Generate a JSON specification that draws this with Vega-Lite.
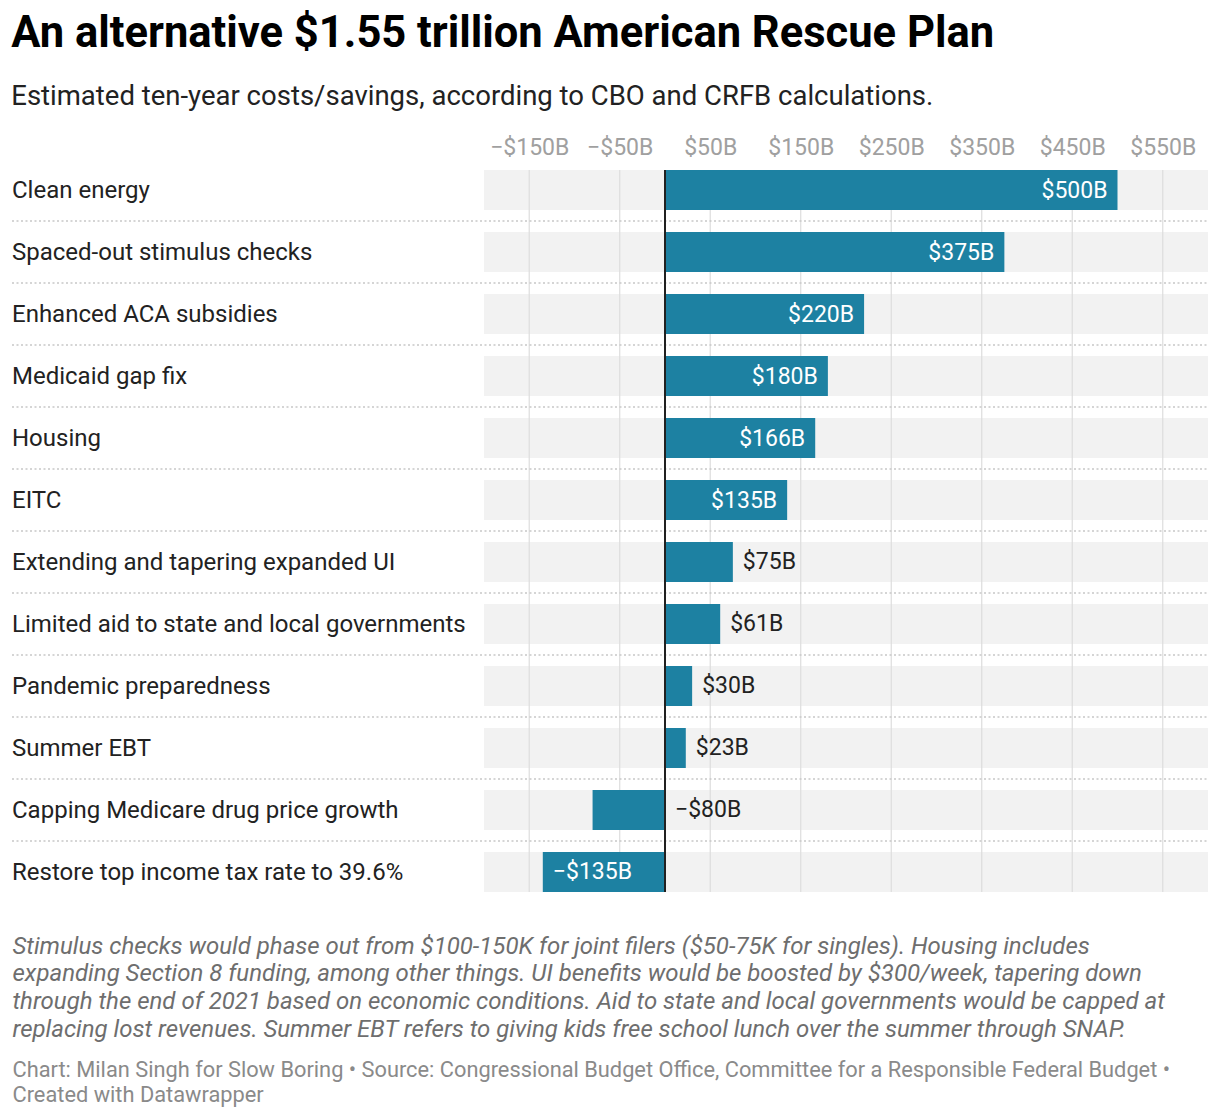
{
  "$schema": "https://vega.github.io/schema/vega-lite/v6.json",
  "width": 1196,
  "height": 722,
  "padding": {"left": 11, "right": 12, "top": 12, "bottom": 10},
  "title": {
    "text": "An alternative $1.55 trillion American Rescue Plan",
    "subtitle": "Estimated ten-year costs/savings, according to CBO and CRFB calculations.",
    "anchor": "start",
    "font": "Roboto",
    "fontSize": 43.5,
    "fontWeight": "bold",
    "color": "#000000",
    "subtitleFont": "Roboto",
    "subtitleFontSize": 27.5,
    "subtitleColor": "#222222",
    "subtitlePadding": 26.5,
    "offset": 24.5
  },
  "data": {
    "values": [
      {"item": "Clean energy", "value": 500},
      {"item": "Spaced-out stimulus checks", "value": 375},
      {"item": "Enhanced ACA subsidies", "value": 220},
      {"item": "Medicaid gap fix", "value": 180},
      {"item": "Housing", "value": 166},
      {"item": "EITC", "value": 135},
      {"item": "Extending and tapering expanded UI", "value": 75},
      {"item": "Limited aid to state and local governments", "value": 61},
      {"item": "Pandemic preparedness", "value": 30},
      {"item": "Summer EBT", "value": 23},
      {"item": "Capping Medicare drug price growth", "value": -80},
      {"item": "Restore top income tax rate to 39.6%", "value": -135}
    ]
  },
  "resolve": {"axis": {"x": "independent"}},
  "layer": [
    {
      "mark": {"type": "bar", "color": "#f2f2f2"},
      "encoding": {
        "y": {
          "field": "item",
          "type": "nominal",
          "sort": null,
          "axis": null,
          "scale": {"paddingInner": 0.3548, "paddingOuter": 0}
        },
        "x": {
          "datum": -200,
          "type": "quantitative",
          "scale": {"domain": [-721.5, 600], "nice": false, "zero": false},
          "axis": {
            "orient": "top",
            "values": [-150, -50, 50, 150, 250, 350, 450, 550],
            "labelExpr": "(datum.value < 0 ? '−' : '') + '$' + abs(datum.value) + 'B'",
            "grid": false,
            "ticks": false,
            "tickSize": 0,
            "domain": false,
            "labelPadding": 11,
            "labelFont": "Roboto",
            "labelFontSize": 23,
            "labelColor": "#a0a0a0",
            "labelFlush": false,
            "labelOverlap": false,
            "title": null
          }
        },
        "x2": {"datum": 600}
      }
    },
    {
      "data": {
        "values": [
          {"tick": -150}, {"tick": -50}, {"tick": 50}, {"tick": 150},
          {"tick": 250}, {"tick": 350}, {"tick": 450}, {"tick": 550}
        ]
      },
      "mark": {"type": "rule", "color": "#dddddd", "strokeWidth": 1.2},
      "encoding": {
        "x": {
          "field": "tick",
          "type": "quantitative",
          "axis": {
            "orient": "bottom",
            "labels": false,
            "ticks": false,
            "domain": false,
            "grid": false,
            "minExtent": 0,
            "title": [
              "Stimulus checks would phase out from $100-150K for joint filers ($50-75K for singles). Housing includes",
              "expanding Section 8 funding, among other things. UI benefits would be boosted by $300/week, tapering down",
              "through the end of 2021 based on economic conditions. Aid to state and local governments would be capped at",
              "replacing lost revenues. Summer EBT refers to giving kids free school lunch over the summer through SNAP."
            ],
            "titleFont": "Roboto",
            "titleFontSize": 24,
            "titleFontStyle": "italic",
            "titleFontWeight": "normal",
            "titleColor": "#6e6e6e",
            "titleAnchor": "start",
            "titleAlign": "left",
            "titleBaseline": "top",
            "titlePadding": 42.3,
            "titleLineHeight": 27.7
          }
        }
      }
    },
    {
      "transform": [{"filter": "datum.item !== 'Restore top income tax rate to 39.6%'"}],
      "mark": {"type": "rule", "color": "#c8c8c8", "strokeWidth": 1.5, "strokeDash": [2, 2.5]},
      "encoding": {
        "y": {"field": "item", "type": "nominal", "sort": null, "bandPosition": 1.275},
        "x": {
          "datum": -721.5,
          "type": "quantitative",
          "axis": {
            "orient": "bottom",
            "labels": false,
            "ticks": false,
            "domain": false,
            "grid": false,
            "minExtent": 0,
            "title": [
              "Chart: Milan Singh for Slow Boring • Source: Congressional Budget Office, Committee for a Responsible Federal Budget •",
              "Created with Datawrapper"
            ],
            "titleFont": "Roboto",
            "titleFontSize": 21.8,
            "titleFontWeight": "normal",
            "titleColor": "#8a8a8a",
            "titleAnchor": "start",
            "titleAlign": "left",
            "titleBaseline": "top",
            "titlePadding": 167.5,
            "titleLineHeight": 24.7
          }
        },
        "x2": {"datum": 600}
      }
    },
    {
      "mark": {"type": "bar", "color": "#1d81a2"},
      "encoding": {
        "y": {"field": "item", "type": "nominal", "sort": null},
        "x": {"field": "value", "type": "quantitative", "axis": null}
      }
    },
    {
      "mark": {"type": "rule", "color": "#222222", "strokeWidth": 1.6},
      "encoding": {
        "x": {"datum": 0, "type": "quantitative", "axis": null}
      }
    },
    {
      "mark": {"type": "text", "align": "left", "baseline": "middle", "dy": 1, "font": "Roboto", "fontSize": 24, "color": "#222222"},
      "encoding": {
        "y": {"field": "item", "type": "nominal", "sort": null},
        "x": {"datum": -721.5, "type": "quantitative", "axis": null},
        "text": {"field": "item"}
      }
    },
    {
      "transform": [
        {"filter": "datum.value >= 100"},
        {"calculate": "'$' + datum.value + 'B'", "as": "label"}
      ],
      "mark": {"type": "text", "align": "right", "baseline": "middle", "dx": -10, "dy": 0.5, "font": "Roboto", "fontSize": 23, "color": "#ffffff"},
      "encoding": {
        "y": {"field": "item", "type": "nominal", "sort": null},
        "x": {"field": "value", "type": "quantitative", "axis": null},
        "text": {"field": "label"}
      }
    },
    {
      "transform": [
        {"filter": "datum.value <= -100"},
        {"calculate": "'−$' + abs(datum.value) + 'B'", "as": "label"}
      ],
      "mark": {"type": "text", "align": "left", "baseline": "middle", "dx": 10, "dy": 0.5, "font": "Roboto", "fontSize": 23, "color": "#ffffff"},
      "encoding": {
        "y": {"field": "item", "type": "nominal", "sort": null},
        "x": {"field": "value", "type": "quantitative", "axis": null},
        "text": {"field": "label"}
      }
    },
    {
      "transform": [
        {"filter": "datum.value > 0 && datum.value < 100"},
        {"calculate": "'$' + datum.value + 'B'", "as": "label"}
      ],
      "mark": {"type": "text", "align": "left", "baseline": "middle", "dx": 10, "dy": 0.5, "font": "Roboto", "fontSize": 23, "color": "#222222"},
      "encoding": {
        "y": {"field": "item", "type": "nominal", "sort": null},
        "x": {"field": "value", "type": "quantitative", "axis": null},
        "text": {"field": "label"}
      }
    },
    {
      "transform": [
        {"filter": "datum.value < 0 && datum.value > -100"},
        {"calculate": "'−$' + abs(datum.value) + 'B'", "as": "label"}
      ],
      "mark": {"type": "text", "align": "left", "baseline": "middle", "dx": 10, "dy": 0.5, "font": "Roboto", "fontSize": 23, "color": "#222222"},
      "encoding": {
        "y": {"field": "item", "type": "nominal", "sort": null},
        "x": {"datum": 0, "type": "quantitative", "axis": null},
        "text": {"field": "label"}
      }
    }
  ],
  "config": {
    "view": {"stroke": null},
    "font": "Roboto"
  }
}
